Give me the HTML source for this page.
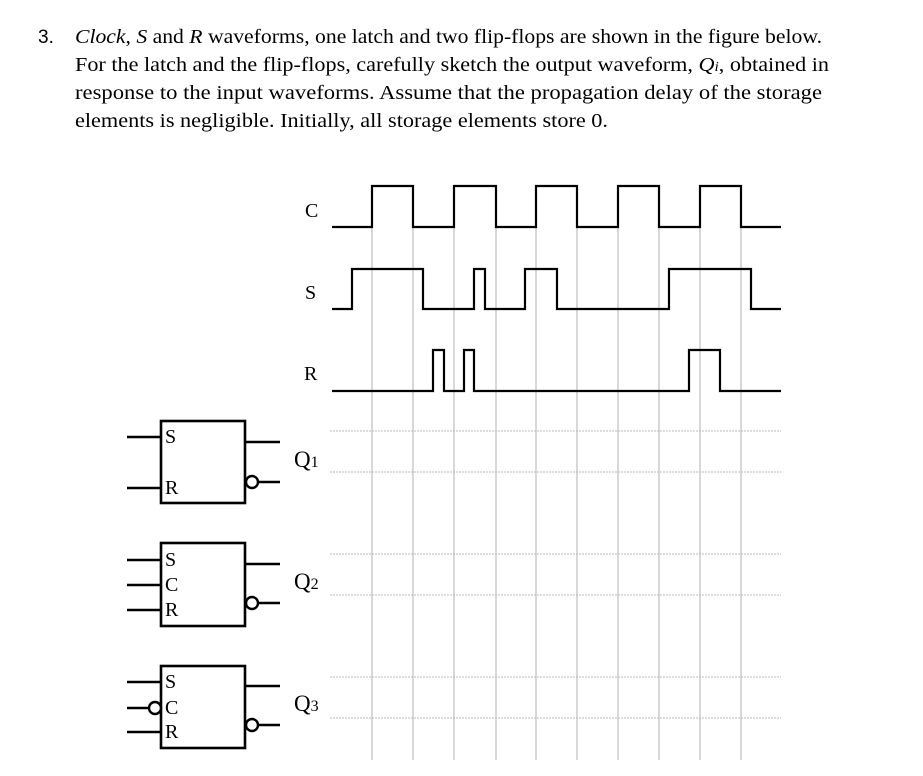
<!DOCTYPE html>
<html><head><meta charset="utf-8"><style>
html,body{margin:0;padding:0;background:#fff;width:923px;height:776px;overflow:hidden}
svg{display:block}
.t{font-family:"Liberation Serif",serif;font-size:20px;fill:#000}
</style></head><body>
<svg width="923" height="776" viewBox="0 0 923 776" xmlns="http://www.w3.org/2000/svg">
<text x="38" y="43" font-family="Liberation Sans,sans-serif" font-size="19">3.</text>
<text class="t" x="75" y="43" textLength="747" lengthAdjust="spacingAndGlyphs"><tspan font-style="italic">Clock</tspan>, <tspan font-style="italic">S</tspan> and <tspan font-style="italic">R</tspan> waveforms, one latch and two flip-flops are shown in the figure below.</text>
<text class="t" x="75" y="71" textLength="754" lengthAdjust="spacingAndGlyphs">For the latch and the flip-flops, carefully sketch the output waveform, <tspan font-style="italic">Q<tspan font-size="14">i</tspan></tspan>, obtained in</text>
<text class="t" x="75" y="99" textLength="747" lengthAdjust="spacingAndGlyphs">response to the input waveforms. Assume that the propagation delay of the storage</text>
<text class="t" x="75" y="127" textLength="533" lengthAdjust="spacingAndGlyphs">elements is negligible. Initially, all storage elements store 0.</text>

<g stroke="#ccc" stroke-width="1.5">
<line x1="372" y1="186" x2="372" y2="760"/><line x1="413" y1="186" x2="413" y2="760"/>
<line x1="454" y1="186" x2="454" y2="760"/><line x1="496" y1="186" x2="496" y2="760"/>
<line x1="536" y1="186" x2="536" y2="760"/><line x1="577" y1="186" x2="577" y2="760"/>
<line x1="618" y1="186" x2="618" y2="760"/><line x1="659" y1="186" x2="659" y2="760"/>
<line x1="700" y1="186" x2="700" y2="760"/><line x1="741" y1="186" x2="741" y2="760"/>
</g>
<g stroke="#bbb" stroke-width="1" stroke-dasharray="2,1">
<line x1="330" y1="431" x2="781" y2="431"/><line x1="330" y1="472" x2="781" y2="472"/>
<line x1="330" y1="554" x2="781" y2="554"/><line x1="330" y1="595" x2="781" y2="595"/>
<line x1="330" y1="677" x2="781" y2="677"/><line x1="330" y1="718" x2="781" y2="718"/>
</g>
<g fill="none" stroke="#000" stroke-width="2.2">
<polyline points="332,227 372,227 372,186 413,186 413,227 454,227 454,186 496,186 496,227 536,227 536,186 577,186 577,227 618,227 618,186 659,186 659,227 700,227 700,186 741,186 741,227 781,227"/>
<polyline points="332,309 352,309 352,269 423,269 423,309 474,309 474,269 485,269 485,309 525,309 525,269 557,269 557,309 669,309 669,269 751,269 751,309 781,309"/>
<polyline points="332,391 433,391 433,350 444,350 444,391 464,391 464,350 474,350 474,391 689,391 689,350 720,350 720,391 781,391"/>
</g>
<g class="t" font-size="20">
<text x="305" y="217">C</text><text x="305" y="299">S</text><text x="304" y="380">R</text>
<text x="294" y="467" font-size="23">Q<tspan font-size="16">1</tspan></text>
<text x="294" y="589" font-size="23">Q<tspan font-size="16">2</tspan></text>
<text x="294" y="711" font-size="23">Q<tspan font-size="16">3</tspan></text>
</g>
<g fill="#fff" stroke="#000" stroke-width="2.6">
<rect x="161" y="421" width="84" height="82"/>
<rect x="161" y="543" width="84" height="83"/>
<rect x="161" y="666" width="84" height="82"/>
</g>
<g stroke="#000" stroke-width="2.4">
<line x1="127" y1="437" x2="161" y2="437"/><line x1="127" y1="488" x2="161" y2="488"/>
<line x1="245" y1="442" x2="280" y2="442"/><line x1="258" y1="482" x2="280" y2="482"/>
<line x1="127" y1="560" x2="161" y2="560"/><line x1="127" y1="585" x2="161" y2="585"/><line x1="127" y1="610" x2="161" y2="610"/>
<line x1="245" y1="564" x2="280" y2="564"/><line x1="258" y1="603" x2="280" y2="603"/>
<line x1="127" y1="682" x2="161" y2="682"/><line x1="127" y1="708" x2="150" y2="708"/><line x1="127" y1="732" x2="161" y2="732"/>
<line x1="245" y1="686" x2="280" y2="686"/><line x1="258" y1="725" x2="280" y2="725"/>
</g>
<g fill="#fff" stroke="#000" stroke-width="2.4">
<circle cx="252" cy="482" r="6"/><circle cx="252" cy="603" r="6"/><circle cx="252" cy="725" r="6"/>
<circle cx="155" cy="708" r="6"/>
</g>
<g class="t" font-size="15">
<text x="165" y="443">S</text><text x="165" y="494">R</text>
<text x="165" y="566">S</text><text x="165" y="591">C</text><text x="165" y="616">R</text>
<text x="165" y="688">S</text><text x="165" y="714">C</text><text x="165" y="738">R</text>
</g>
</svg>
</body></html>
